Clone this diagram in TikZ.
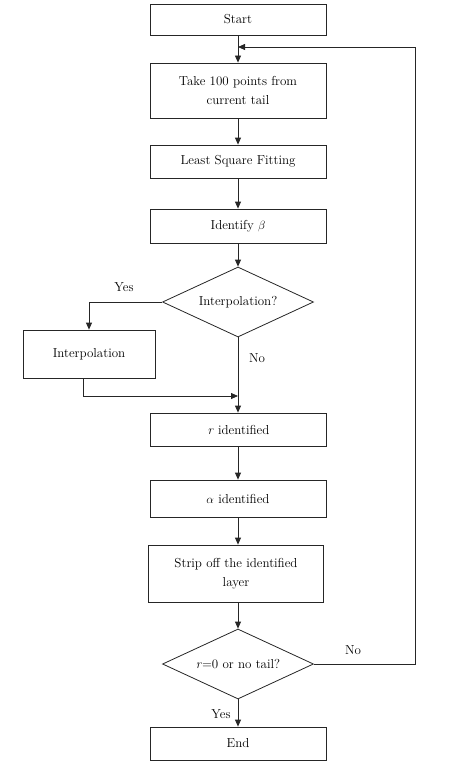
\documentclass[tikz,border=0pt]{standalone}
\usetikzlibrary{arrows.meta,shapes.geometric}
\begin{document}
\begin{tikzpicture}[x=1pt,y=-1pt,
  every node/.style={font=\fontsize{13}{15.5}\selectfont},
  box/.style={draw=black!85,line width=0.8pt,rectangle,minimum width=176pt,inner sep=0pt,align=center},
  dia/.style={draw=black!85,line width=0.8pt,shape=diamond,aspect=2.16,inner sep=0pt,minimum width=151pt,minimum height=70pt},
  conn/.style={draw=black!85,line width=0.8pt},
  arr/.style={conn,-{Triangle[length=7pt,width=6pt]}},
  lbl/.style={inner sep=0pt}]
\useasboundingbox (0,0) rectangle (474,765);
\node[box,minimum height=31pt] (start) at (238,19.5) {Start};
\node[box,minimum height=55pt] (take) at (238,90.5) {Take 100 points from\\[3pt]current tail};
\node[box,minimum height=33pt] (lsf) at (238,161.5) {Least Square Fitting};
\node[box,minimum height=34pt] (beta) at (238,226) {Identify $\beta$};
\node[dia] (d1) at (238,302) {Interpolation?};
\node[box,minimum width=132pt,minimum height=48pt] (interp) at (89,354) {Interpolation};
\node[box,minimum height=33pt] (rid) at (238.5,429.5) {\textit{r} identified};
\node[box,minimum height=37pt] (aid) at (238,498.5) {$\alpha$ identified};
\node[box,minimum width=175pt,minimum height=57pt] (strip) at (236,573.5) {Strip off the identified\\[3pt]layer};
\node[dia] (d2) at (238,664) {\textit{r}=0 or no tail?};
\node[box,minimum height=33pt] (endn) at (238,743.5) {End};
\coordinate (fb) at (415,664);
\coordinate (fbtop) at (415,47);
\coordinate (j1) at (238,47);
\coordinate (j2) at (238,396);
\coordinate (ib) at (83,378);
\draw[arr] (start) -- (take);
\draw[arr] (take) -- (lsf);
\draw[arr] (lsf) -- (beta);
\draw[arr] (beta) -- (d1);
\draw[arr] (d1.west) -| (interp.north);
\draw[arr] (d1.south) -- (d1.south |- rid.north);
\draw[arr] (ib) |- (j2);
\draw[arr] (rid.south -| d1.south) -- (d1.south |- aid.north);
\draw[arr] (aid.south) -- (aid.south |- strip.north);
\draw[arr] (strip.south -| d2.north) -- (d2.north);
\draw[arr] (d2.south) -- (endn.north);
\draw[arr] (d2.east) -- (fb) -- (fbtop) -- (j1);
\node[lbl] (yes1) at (124,287) {Yes};
\node[lbl] (no1) at (257,358) {No};
\node[lbl] (no2) at (353,650) {No};
\node[lbl] (yes2) at (221,714) {Yes};
\end{tikzpicture}
\end{document}
